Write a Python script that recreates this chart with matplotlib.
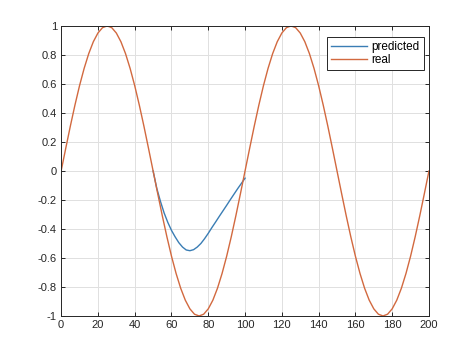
import matplotlib
matplotlib.use("Agg")
import matplotlib.pyplot as plt
import numpy as np

# real signal, sampled every 2.5
real_x = np.arange(0, 200.1, 2.5)
real_y = [
    0.000, 0.156, 0.309, 0.454, 0.588, 0.707, 0.809, 0.891, 0.951, 0.988,
    1.000, 0.988, 0.951, 0.891, 0.809, 0.707, 0.588, 0.454, 0.309, 0.156,
    0.000, -0.156, -0.309, -0.454, -0.588, -0.707, -0.809, -0.891, -0.951, -0.988,
    -1.000, -0.988, -0.951, -0.891, -0.809, -0.707, -0.588, -0.454, -0.309, -0.156,
    0.000, 0.156, 0.309, 0.454, 0.588, 0.707, 0.809, 0.891, 0.951, 0.988,
    1.000, 0.988, 0.951, 0.891, 0.809, 0.707, 0.588, 0.454, 0.309, 0.156,
    0.000, -0.156, -0.309, -0.454, -0.588, -0.707, -0.809, -0.891, -0.951, -0.988,
    -1.000, -0.988, -0.951, -0.891, -0.809, -0.707, -0.588, -0.454, -0.309, -0.156,
    0.000,
]

# predicted segment
pred_x = [50, 52, 54, 56, 58, 60, 62, 64, 66, 68, 70, 72, 74, 76, 78,
          80, 82, 84, 86, 88, 90, 92, 94, 96, 98, 100]
pred_y = [0.0, -0.12, -0.21, -0.29, -0.355, -0.41, -0.455, -0.495, -0.525, -0.545,
          -0.55, -0.543, -0.525, -0.50, -0.467, -0.43, -0.39, -0.352, -0.313, -0.275,
          -0.237, -0.198, -0.16, -0.122, -0.086, -0.05]

xticks = np.arange(0, 201, 20)
yticks = np.round(np.arange(-1, 1.01, 0.2), 1)
ylabels = ["-1", "-0.8", "-0.6", "-0.4", "-0.2", "0", "0.2", "0.4", "0.6", "0.8", "1"]

plt.rcParams["font.family"] = ["Liberation Sans", "DejaVu Sans"]

fig = plt.figure(figsize=(4.74, 3.55), dpi=100)
ax = fig.add_axes([0.129, 0.110, 0.776, 0.817])

ax.plot(pred_x, pred_y, color="#3a7db4", lw=1.0, label="predicted")
ax.plot(real_x, real_y, color="#d2693f", lw=1.0, label="real")

ax.set_xlim(0, 200)
ax.set_ylim(-1, 1)
ax.set_xticks(xticks)
ax.set_yticks(yticks)
ax.set_yticklabels(ylabels)
ax.grid(True, color="#e0e0e0", lw=0.7)
ax.set_axisbelow(True)
ax.tick_params(direction="in", length=3, width=0.7, top=True, right=True,
               labelsize=8, colors="#262626", pad=3)
for s in ax.spines.values():
    s.set_color("#262626")
    s.set_linewidth(0.7)

leg = ax.legend(loc="upper right", bbox_to_anchor=(0.986, 0.963), fontsize=8.5,
                fancybox=False, framealpha=1, edgecolor="#262626",
                handlelength=3.0, handletextpad=0.4, borderpad=0.35,
                borderaxespad=0, labelspacing=0.1)
leg.get_frame().set_linewidth(0.7)

fig.savefig("out.png", dpi=100)
